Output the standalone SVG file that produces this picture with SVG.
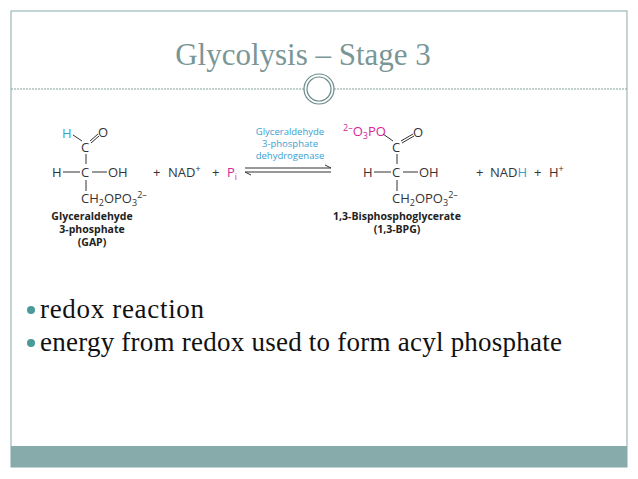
<svg xmlns="http://www.w3.org/2000/svg" width="638" height="479" viewBox="0 0 638 479">
<defs><style>
.t{font-family:"Liberation Serif",serif}
.c{font-family:"Open Sans","DejaVu Sans",sans-serif;font-size:13px;fill:#333}
.b{font-family:"Open Sans","DejaVu Sans",sans-serif;font-size:10.5px;font-weight:bold;fill:#222;text-anchor:middle}
.e{font-family:"Open Sans","DejaVu Sans",sans-serif;font-size:9.5px;fill:#3a9fd0;text-anchor:middle}
.bl{fill:#3a9fd0}.pk{fill:#d6279a}
.bond{stroke:#333;stroke-width:1;fill:none}
</style></defs>
<rect width="638" height="479" fill="#fff"/>
<g id="frame">
<rect x="11" y="11" width="616" height="456" fill="none" stroke="#8aa" stroke-width="1"/>
<rect x="11" y="446" width="616" height="21" fill="#86abaa"/>
<line x1="11" y1="89" x2="305" y2="89" stroke="#6a8a8a" stroke-dasharray="2,1" stroke-width="0.8"/>
<line x1="334" y1="89" x2="627" y2="89" stroke="#6a8a8a" stroke-dasharray="2,1" stroke-width="0.8"/>
<circle cx="319" cy="89" r="15" fill="#fff" stroke="#6a8a8a" stroke-width="1.2"/>
<circle cx="319" cy="89" r="12" fill="none" stroke="#6a8a8a" stroke-width="1.2"/>
</g>
<g id="title"><text x="303" y="65" class="t" font-size="31" fill="#7a9696" text-anchor="middle">Glycolysis – Stage 3</text></g>
<g id="gap">
<text x="62" y="138" class="c bl">H</text>
<text x="81" y="152" class="c">C</text>
<text x="98" y="137" class="c">O</text>
<line x1="73" y1="135" x2="82" y2="141" class="bond"/>
<line x1="90" y1="141" x2="98" y2="134" class="bond"/>
<line x1="91" y1="143" x2="99" y2="136" class="bond"/>
<line x1="86" y1="154" x2="86" y2="164" class="bond"/>
<text x="52" y="177" class="c">H</text>
<line x1="63" y1="172" x2="80" y2="172" class="bond"/>
<text x="81" y="177" class="c">C</text>
<line x1="92" y1="172" x2="107" y2="172" class="bond"/>
<text x="108" y="177" class="c">OH</text>
<line x1="86" y1="180" x2="86" y2="191" class="bond"/>
<text x="81" y="203" class="c">CH<tspan font-size="9" dy="3">2</tspan><tspan dy="-3">OPO</tspan><tspan font-size="9" dy="3">3</tspan><tspan font-size="9" dy="-8">2–</tspan></text>
<text x="92" y="220" class="b">Glyceraldehyde</text>
<text x="92" y="233" class="b">3-phosphate</text>
<text x="92" y="246" class="b">(GAP)</text>
</g>
<g id="reagents">
<text x="153" y="177" class="c">+</text>
<text x="168" y="177" class="c">NAD<tspan font-size="9" dy="-5">+</tspan></text>
<text x="212" y="177" class="c">+</text>
<text x="227" y="177" class="c pk">P<tspan font-size="9" dy="3">i</tspan></text>
</g>
<g id="enzyme">
<text x="290" y="135" class="e">Glyceraldehyde</text>
<text x="290" y="147" class="e">3-phosphate</text>
<text x="290" y="159" class="e">dehydrogenase</text>
</g>
<g id="connectors">
<path d="M245 168 H331 M331 168 L325 165" class="bond"/>
<path d="M245 172 H331 M245 172 L251 175" class="bond"/>
</g>
<g id="bpg">
<text x="343" y="136" class="c pk"><tspan font-size="9" dy="-5">2–</tspan><tspan dy="5">O</tspan><tspan font-size="9" dy="3">3</tspan><tspan dy="-3">PO</tspan></text>
<text x="392" y="152" class="c">C</text>
<text x="413" y="137" class="c">O</text>
<line x1="383" y1="134" x2="393" y2="141" class="bond"/>
<line x1="401" y1="141" x2="413" y2="134" class="bond"/>
<line x1="402" y1="143" x2="414" y2="136" class="bond"/>
<line x1="397" y1="154" x2="397" y2="164" class="bond"/>
<text x="363" y="177" class="c">H</text>
<line x1="374" y1="172" x2="391" y2="172" class="bond"/>
<text x="392" y="177" class="c">C</text>
<line x1="403" y1="172" x2="418" y2="172" class="bond"/>
<text x="419" y="177" class="c">OH</text>
<line x1="397" y1="180" x2="397" y2="191" class="bond"/>
<text x="392" y="203" class="c">CH<tspan font-size="9" dy="3">2</tspan><tspan dy="-3">OPO</tspan><tspan font-size="9" dy="3">3</tspan><tspan font-size="9" dy="-8">2–</tspan></text>
<text x="397" y="220" class="b">1,3-Bisphosphoglycerate</text>
<text x="397" y="233" class="b">(1,3-BPG)</text>
</g>
<g id="products">
<text x="476" y="177" class="c">+</text>
<text x="490" y="177" class="c">NAD<tspan class="bl">H</tspan></text>
<text x="534" y="177" class="c">+</text>
<text x="549" y="177" class="c">H<tspan font-size="9" dy="-5">+</tspan></text>
</g>
<g id="bullets" class="t" font-size="27" fill="#111">
<circle cx="31" cy="310" r="4" fill="#4a9a9a"/>
<text x="40" y="318" textLength="164">redox reaction</text>
<circle cx="31" cy="343" r="4" fill="#4a9a9a"/>
<text x="40" y="351" textLength="522">energy from redox used to form acyl phosphate</text>
</g>
</svg>
